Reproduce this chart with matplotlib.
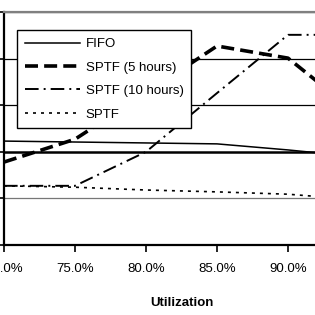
import matplotlib
matplotlib.use("Agg")
import matplotlib.pyplot as plt

plt.rcParams['font.family'] = ['Liberation Sans', 'DejaVu Sans']

util = [70, 75, 80, 85, 90, 95]
fifo = [2.23, 2.21, 2.19, 2.17, 2.04, 1.89]
sptf_5h = [1.78, 2.27, 3.26, 4.27, 4.01, 2.79]
sptf_10h = [1.27, 1.27, 2.00, 3.26, 4.51, 4.51]
sptf = [1.27, 1.24, 1.18, 1.14, 1.09, 0.97]
xticks = [70, 75, 80, 85, 90, 95]
xlabels = ['70.0%', '75.0%', '80.0%', '85.0%', '90.0%', '95.0%']

fig = plt.figure(figsize=(3.15, 3.15), dpi=100)
# the original picture is a crop, so the axes run past the figure edges
ax = fig.add_axes([4 / 315, 1 - 245 / 315, 355 / 315, 233 / 315])

ax.plot(util, fifo, color='black', lw=1.1, label='FIFO')
ax.plot(util, sptf_5h, color='black', lw=2.6, dashes=(3.6, 1.7), label='SPTF (5 hours)')
ax.plot(util, sptf_10h, color='black', lw=1.4, dashes=(7, 2.6, 1.0, 2.6), label='SPTF (10 hours)')
ax.plot(util, sptf, color='black', lw=1.2, dashes=(1.8, 3.0), label='SPTF')

ax.set_xlim(70, 95)
ax.set_ylim(0, 5)
ax.set_xticks(xticks)
ax.set_xticklabels(xlabels, fontsize=9.5)
ax.set_yticks([0, 1, 2, 3, 4, 5])
ax.set_yticklabels([])
ax.tick_params(axis='x', direction='out', length=5, width=1.2, pad=8)
ax.tick_params(axis='y', direction='out', length=5, width=1.2)
ax.yaxis.grid(True, color='black', lw=0.9)
grid = ax.get_ygridlines()
grid[1].set_color('#777777')
grid[2].set_linewidth(1.8)
ax.set_axisbelow(True)

ax.spines['left'].set_linewidth(1.6)
ax.spines['bottom'].set_linewidth(1.6)
ax.spines['top'].set_color('#808080')
ax.spines['top'].set_linewidth(1.6)
ax.spines['right'].set_visible(False)

ax.set_xlabel('Utilization', fontsize=9.5, fontweight='bold', labelpad=16)

leg = ax.legend(loc='upper left', bbox_to_anchor=(17 / 315, 1 - 30 / 315),
                bbox_transform=fig.transFigure, borderaxespad=0,
                fontsize=9.5, handlelength=4.2, handletextpad=0.4,
                labelspacing=0.85, borderpad=0.6, fancybox=False,
                framealpha=1, edgecolor='black')
leg.get_frame().set_linewidth(1.0)

fig.savefig('out.png', dpi=100)
